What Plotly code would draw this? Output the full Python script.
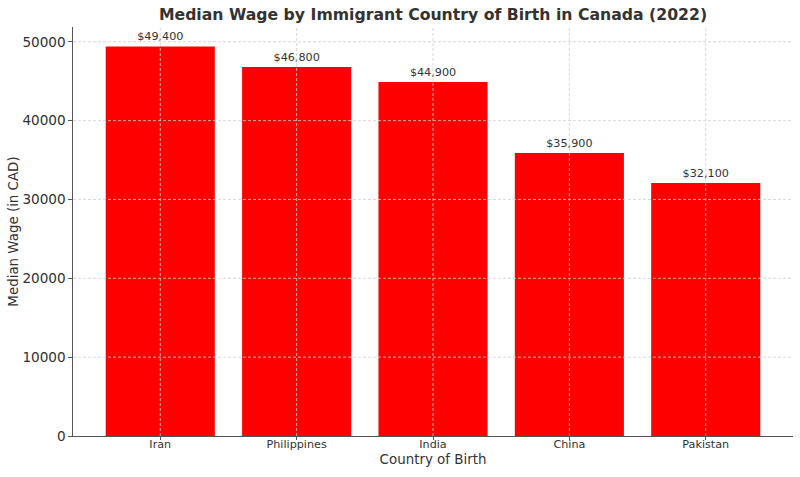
import plotly.graph_objects as go

countries = ["Iran", "Philippines", "India", "China", "Pakistan"]
wages = [49400, 46800, 44900, 35900, 32100]
ytick_vals = [0, 10000, 20000, 30000, 40000, 50000]
bar_labels = [f"${v:,}" for v in wages]

FONT = "DejaVu Sans"
TXT = "#333333"
GRID = "#cfcfcf"

fig = go.Figure()
fig.add_trace(go.Bar(
    x=list(range(len(countries))), y=wages,
    marker=dict(color="#ff0000", line=dict(width=0)),
    width=0.8,
    text=bar_labels, textposition="outside",
    textfont=dict(family=FONT, size=11.2, color=TXT),
    cliponaxis=False,
))

shapes = []
for i in range(len(countries)):
    shapes.append(dict(type="line", xref="x", yref="paper", x0=i, x1=i, y0=0, y1=1,
                       line=dict(color=GRID, width=0.8, dash="3px,2px"), layer="above"))
for v in ytick_vals[1:]:
    shapes.append(dict(type="line", xref="paper", yref="y", x0=0, x1=1, y0=v, y1=v,
                       line=dict(color=GRID, width=0.8, dash="3px,2px"), layer="above"))

ymax = max(wages) * 1.05
fig.update_layout(
    width=800, height=477,
    margin=dict(l=73, r=7, t=27, b=41),
    plot_bgcolor="white", paper_bgcolor="white",
    font=dict(family=FONT, color=TXT),
    title=dict(text="<b>Median Wage by Immigrant Country of Birth in Canada (2022)</b>",
               x=(73 + 793) / 2 / 800, xanchor="center", y=1 - 15 / 477, yanchor="middle",
               font=dict(family=FONT, size=15.7, color=TXT)),
    shapes=shapes,
    showlegend=False,
    bargap=0.2,
)
fig.update_xaxes(
    tickmode="array", tickvals=list(range(len(countries))), ticktext=countries,
    range=[-0.64, len(countries) - 1 + 0.64],
    showgrid=False, zeroline=False, automargin=False,
    showline=True, linecolor="#555555", linewidth=1.2,
    ticks="outside", ticklen=3, tickcolor="#555555",
    ticklabelstandoff=-6,
    tickfont=dict(family=FONT, size=11.2, color=TXT),
    title=dict(text="Country of Birth", font=dict(family=FONT, size=13.4, color=TXT), standoff=5),
)
fig.update_yaxes(
    range=[0, ymax], tickmode="array", tickvals=ytick_vals,
    ticktext=[str(v) for v in ytick_vals],
    showgrid=False, zeroline=False, automargin=False,
    showline=True, linecolor="#555555", linewidth=1.2,
    ticks="outside", ticklen=3.5, tickcolor="#555555",
    tickfont=dict(family=FONT, size=13.6, color=TXT),
    title=dict(text="Median Wage (in CAD)", font=dict(family=FONT, size=13.4, color=TXT), standoff=0),
)

fig.write_html("out.html")
